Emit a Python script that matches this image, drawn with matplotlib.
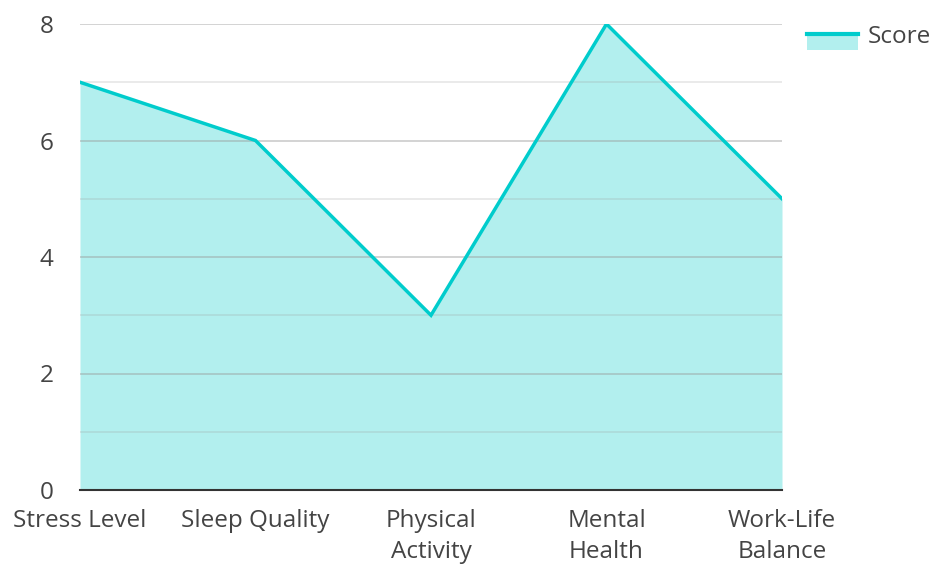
import matplotlib.pyplot as plt
from matplotlib.patches import Rectangle
from matplotlib.lines import Line2D
from matplotlib.legend_handler import HandlerBase

categories = ["Stress Level", "Sleep Quality", "Physical\nActivity", "Mental\nHealth", "Work-Life\nBalance"]
scores = [7, 6, 3, 8, 5]

line_color = "#00cccc"
fill_color = "#b2efee"
text_color = "#444444"

plt.rcParams['font.family'] = ['Open Sans', 'DejaVu Sans']


class AreaHandler(HandlerBase):
    # filled box with the line running along its top edge, set a little low
    def create_artists(self, legend, orig, xd, yd, width, height, fontsize, trans):
        drop = 4
        top = yd + height - drop
        box = Rectangle((xd, yd - drop), width, height, facecolor=fill_color, edgecolor="none", transform=trans)
        ln = Line2D([xd, xd + width], [top, top], color=line_color, lw=3, transform=trans)
        return [box, ln]


fig = plt.figure(figsize=(9.31, 5.64), dpi=100)
ax = fig.add_axes([80 / 931, 74 / 564, 702 / 931, 466 / 564])

x = list(range(len(categories)))
ax.fill_between(x, scores, 0, color=fill_color, lw=0, zorder=1)
ax.plot(x, scores, color=line_color, lw=2.5, zorder=3, solid_joinstyle="miter")

ax.set_xlim(0, len(categories) - 1)
ax.set_ylim(0, 8)
ax.set_yticks([0, 2, 4, 6, 8])
ax.set_yticks([1, 3, 5, 7], minor=True)
ax.set_xticks(x)
ax.set_xticklabels(categories, linespacing=1.35)

ax.grid(axis="y", which="major", color="#9a9a9a", alpha=0.5, lw=1.2, zorder=2)
ax.grid(axis="y", which="minor", color="#9a9a9a", alpha=0.25, lw=1.2, zorder=2)
ax.set_axisbelow(False)

for side in ["left", "right", "top"]:
    ax.spines[side].set_visible(False)
ax.spines["bottom"].set_color("#333333")
ax.spines["bottom"].set_linewidth(1.5)
ax.spines["bottom"].set_zorder(4)

ax.tick_params(axis="both", which="both", length=0, labelsize=17.5, labelcolor=text_color)
ax.tick_params(axis="y", pad=19)
ax.tick_params(axis="x", pad=14)
ax.yaxis.set_tick_params(which="minor", labelleft=False)

handle = Rectangle((0, 0), 1, 1)
leg = ax.legend([handle], ["Score"], handler_map={Rectangle: AreaHandler()},
                loc="upper left", bbox_to_anchor=(1.035, 0.997), frameon=False,
                fontsize=17.5, handlelength=2.1, handleheight=0.6, handletextpad=0.4,
                borderaxespad=0, borderpad=0)
for t in leg.get_texts():
    t.set_color(text_color)

fig.savefig("out.png", dpi=100)
